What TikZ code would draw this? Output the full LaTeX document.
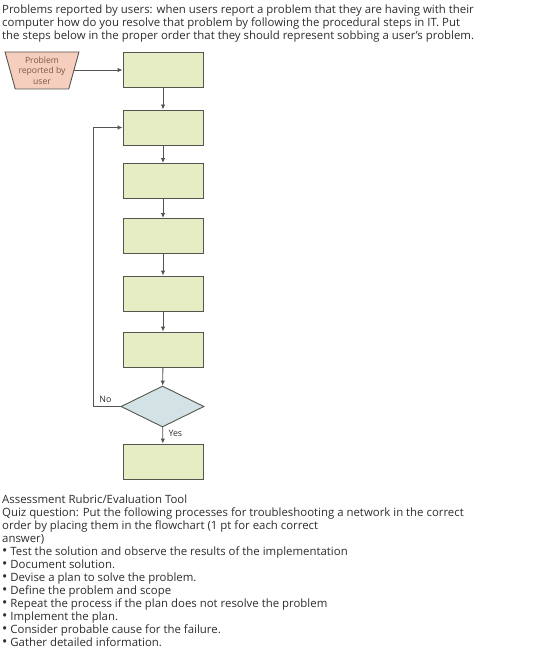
\documentclass[tikz,border=0pt]{standalone}
\usepackage{fontspec}
\setmainfont{Open Sans}
\usetikzlibrary{shapes.geometric,arrows.meta,positioning}
\definecolor{stepgreen}{RGB}{230,237,196}
\definecolor{checkblue}{RGB}{211,226,229}
\definecolor{startpink}{RGB}{246,206,190}
\definecolor{startbrown}{RGB}{130,85,70}
\definecolor{linegray}{RGB}{85,85,80}
\definecolor{txtgray}{RGB}{45,45,45}
\newcommand{\itemdot}{{\fontsize{14}{13}\selectfont\textbullet}\ }

\begin{document}
\begin{tikzpicture}[x=1pt, y=-1pt,
  stepbox/.style={draw=linegray, fill=stepgreen, rectangle, minimum width=80pt, minimum height=35pt, line width=0.9pt},
  checkbox/.style={draw=linegray, fill=checkblue, diamond, minimum width=83pt, minimum height=41pt, inner sep=0pt, line width=0.9pt},
  startbox/.style={draw=linegray, fill=startpink, trapezium, shape border rotate=180, trapezium stretches=true, trapezium angle=72, minimum width=74pt, minimum height=37pt, inner sep=0pt, line width=0.9pt, align=center, font=\fontsize{8.6}{10.5}\selectfont, text=startbrown},
  para/.style={anchor=north west, inner sep=0pt, align=left, text=txtgray, font=\fontsize{11.4}{13}\selectfont},
  lbl/.style={font=\fontsize{8.8}{10}\selectfont, text=txtgray},
  arr/.style={-{Latex[length=5pt,width=4.5pt]}, draw=linegray, line width=0.9pt}
]
\useasboundingbox (0,0) rectangle (548,652);

\node[para] (intro) at (2,5) {Problems reported by users: when users report a problem that they are having with their\\
computer how do you resolve that problem by following the procedural steps in IT. Put\\
the steps below in the proper order that they should represent sobbing a user's problem.};

\node[startbox] (start) at (42,70.5) {Problem\\reported by\\user};

\node[stepbox] (s1) at (163,70) {};
\node[stepbox] (s2) at (163,127.5) {};
\node[stepbox] (s3) at (163,181) {};
\node[stepbox] (s4) at (163,236) {};
\node[stepbox] (s5) at (163,293.5) {};
\node[stepbox] (s6) at (163,349.5) {};
\node[checkbox] (check) at (162.5,406.5) {};
\node[stepbox] (s7) at (163,461.5) {};

\coordinate (loop) at (93,406.5);

\draw[arr] (start.east |- s1) -- (s1);
\draw[arr] (s1) -- (s2);
\draw[arr] (s2) -- (s3);
\draw[arr] (s3) -- (s4);
\draw[arr] (s4) -- (s5);
\draw[arr] (s5) -- (s6);
\draw[arr] (s6) -- (check);
\draw[arr] (check) -- node[right=2pt, lbl, pos=0.4] {Yes} (s7);
\draw[arr] (check.west) -- node[above, lbl, pos=0.55] {No} (loop) |- (s2);

\node[para] (rubric) at (2,495) {Assessment Rubric/Evaluation Tool\\
Quiz question: Put the following processes for troubleshooting a network in the correct\\
order by placing them in the flowchart (1 pt for each correct\\
answer)\\
\itemdot Test the solution and observe the results of the implementation\\
\itemdot Document solution.\\
\itemdot Devise a plan to solve the problem.\\
\itemdot Define the problem and scope\\
\itemdot Repeat the process if the plan does not resolve the problem\\
\itemdot Implement the plan.\\
\itemdot Consider probable cause for the failure.\\
\itemdot Gather detailed information.};
\end{tikzpicture}
\end{document}
